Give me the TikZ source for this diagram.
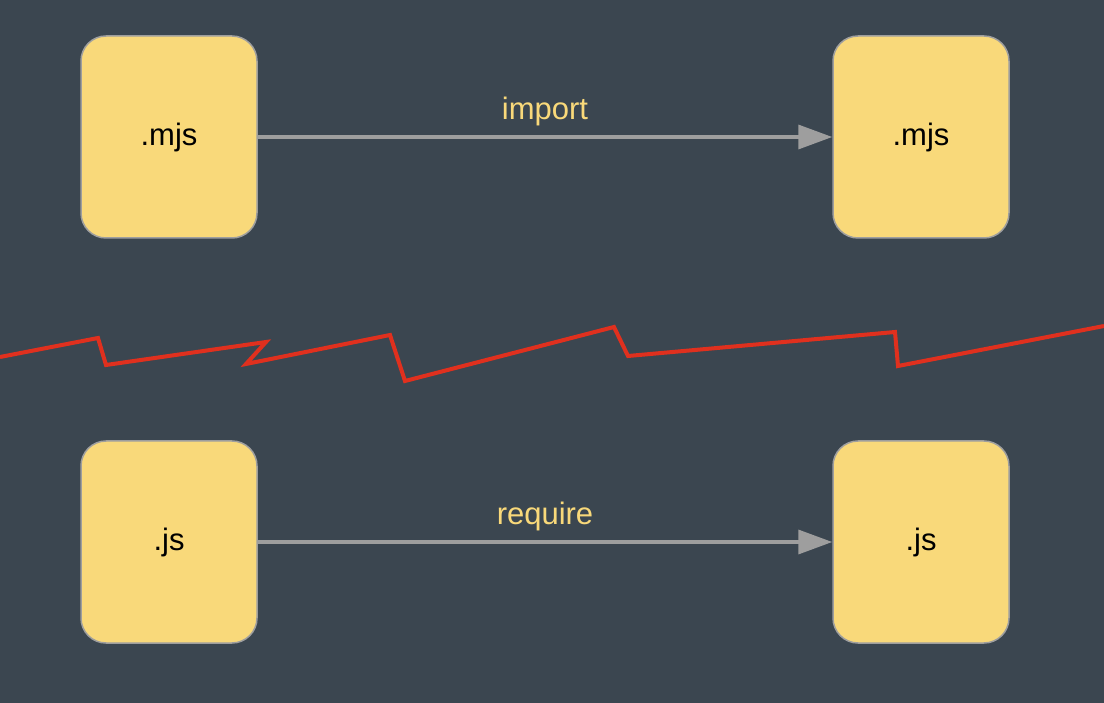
\documentclass[tikz,border=0pt]{standalone}
\usepackage{fontspec}
\setmainfont{Liberation Sans}
\usetikzlibrary{arrows.meta}
\definecolor{bg}{HTML}{3B4650}
\definecolor{filebox}{HTML}{F9D97A}
\definecolor{edge}{HTML}{9E9E9E}
\definecolor{crack}{HTML}{E0301E}
\tikzset{
  file/.style={draw=edge, line width=1.5pt, fill=filebox, rounded corners=25pt,
    minimum width=176pt, minimum height=202pt, font=\fontsize{31}{31}\selectfont},
  link/.style={draw=edge, line width=3.5pt, -{Triangle[length=34pt,width=24pt]}},
  linklabel/.style={text=filebox, font=\fontsize{31}{31}\selectfont}
}
\begin{document}
\begin{tikzpicture}[x=1pt,y=-1pt]
		% Background
		\fill[bg] (0,0) rectangle (1104,703);
		\useasboundingbox (0,0) rectangle (1104,703);

		% Files
		\node[file] (mjsA) at (169,137) {.mjs};
		\node[file] (mjsB) at (921,137) {.mjs};
		\node[file] (jsA) at (169,542) {.js};
		\node[file] (jsB) at (921,542) {.js};

		% Links
		\draw[link] (mjsA) -- (mjsB) node[midway, linklabel, above=6pt] {import};
		\draw[link] (jsA) -- (jsB) node[midway, linklabel, above=6pt] {require};

		% Broken line
		\draw[crack, line width=4pt, line join=miter] (0,357) -- (98,338) -- (106,365) -- (266,342)
			-- (246,364) -- (390,335) -- (405,381) -- (614,327) -- (628,356)
			-- (895,332) -- (898,366) -- (1104,326);
	\end{tikzpicture}
\end{document}
